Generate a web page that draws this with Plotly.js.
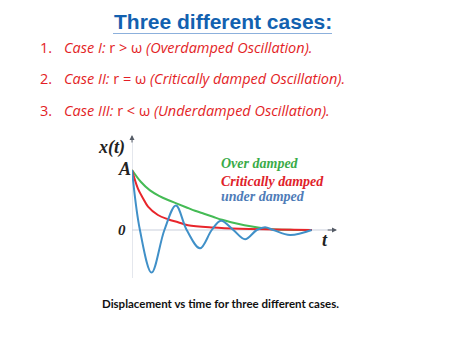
<!DOCTYPE html>
<html>
<head>
<meta charset="utf-8">
<script src="https://cdn.plot.ly/plotly-3.0.1.min.js"></script>
<style>html,body{margin:0;padding:0;background:#fff;}#chart{width:474px;height:355px;}</style>
</head>
<body>
<div id="chart"></div>
<script>
// ---- data (t in arbitrary time units, x in units of A) ----
var overT  = [0, 0.5, 1, 1.5, 2, 2.5, 3, 3.5, 4, 4.5, 5, 5.5, 6, 6.5, 7, 7.5, 8, 9, 10];
var overX  = [1, 0.8, 0.66, 0.57, 0.5, 0.44, 0.38, 0.32, 0.27, 0.22, 0.17, 0.13, 0.095, 0.065, 0.04, 0.02, 0.008, 0.002, 0];

var critT  = [0, 0.33, 0.61, 0.89, 1.44, 2.0, 2.56, 3.11, 4.5, 6, 8, 10];
var critX  = [1, 0.69, 0.53, 0.39, 0.25, 0.18, 0.13, 0.08, 0.04, 0.02, 0.01, 0];

var underT = [0, 0.44, 1.09, 1.8, 2.44, 3.04, 3.78, 4.43, 4.94, 5.63, 6.28, 6.93, 7.39, 7.85, 8.78, 9.98];
var underX = [1, 0, -0.71, 0, 0.41, 0, -0.305, 0, 0.155, 0, -0.155, 0, 0.045, 0, -0.083, 0];

var seriesNames = ["Over damped", "Critically damped", "under damped"];
var titleText = "Three different cases:";
var caseNums = ["1.", "2.", "3."];
var caseHeads = ["Case I:", "Case II:", "Case III:"];
var caseRel = ["r &gt; \u03c9", "r = \u03c9", "r &lt; \u03c9"];
var caseDesc = ["(Overdamped Oscillation).", "(Critically damped Oscillation).", "(Underdamped Oscillation)."];
var captionText = "Displacement vs time for three different cases.";
var yLabel = "x(t)", aLabel = "A", zeroLabel = "0", tLabel = "t";

// ---- layout helpers ----
var W = 474, H = 355;
function px(x){ return x / W; }
function py(y){ return 1 - y / H; }

var green = "#45bb55", red = "#e8252b", blue = "#4090c8";
var axisCol = "#c9cfdc";

var traces = [
  {x: overT, y: overX, mode: "lines", line: {color: green, width: 2, shape: "spline"}, name: seriesNames[0]},
  {x: critT, y: critX, mode: "lines", line: {color: red, width: 2, shape: "spline"}, name: seriesNames[1]},
  {x: underT, y: underX, mode: "lines", line: {color: blue, width: 2, shape: "spline"}, name: seriesNames[2]}
];

var xMax = 205 / 18, yMin = -0.8, yMax = 95 / 60;

var ann = [];
ann.push({xref: "paper", yref: "paper", x: px(222.5), y: py(21), text: "<b>" + titleText + "</b>", showarrow: false,
  font: {family: "Liberation Sans, Arial", size: 21, color: "#1261b0"}, xanchor: "center", yanchor: "middle"});
var lineY = [47, 78, 110];
for (var i = 0; i < 3; i++) {
  ann.push({xref: "paper", yref: "paper", x: px(38), y: py(lineY[i]), text: caseNums[i], showarrow: false,
    font: {family: "Open Sans", size: 14.5, color: "#e31e26"}, xanchor: "left", yanchor: "middle"});
  ann.push({xref: "paper", yref: "paper", x: px(62), y: py(lineY[i]),
    text: "<i>" + caseHeads[i] + "</i> " + caseRel[i] + " <i>" + caseDesc[i] + "</i>", showarrow: false,
    font: {family: "Open Sans", size: 14.5, color: "#e31e26"}, xanchor: "left", yanchor: "middle"});
}
ann.push({xref: "paper", yref: "paper", x: px(220), y: py(303), text: "<b>" + captionText + "</b>", showarrow: false,
  font: {family: "Lato", size: 11.5, color: "#111"}, xanchor: "center", yanchor: "middle"});

// axis labels
var serif = "Liberation Serif, Times New Roman, serif";
ann.push({xref: "paper", yref: "paper", x: px(111), y: py(147), text: "<b><i>" + yLabel + "</i></b>", showarrow: false,
  font: {family: serif, size: 18, color: "#222"}, xanchor: "center", yanchor: "middle"});
ann.push({xref: "paper", yref: "paper", x: px(124), y: py(169), text: "<b><i>" + aLabel + "</i></b>", showarrow: false,
  font: {family: serif, size: 18, color: "#222"}, xanchor: "center", yanchor: "middle"});
ann.push({xref: "paper", yref: "paper", x: px(122), y: py(230), text: "<b><i>" + zeroLabel + "</i></b>", showarrow: false,
  font: {family: serif, size: 15, color: "#222"}, xanchor: "center", yanchor: "middle"});
ann.push({xref: "paper", yref: "paper", x: px(325), y: py(240), text: "<b><i>" + tLabel + "</i></b>", showarrow: false,
  font: {family: serif, size: 18, color: "#222"}, xanchor: "center", yanchor: "middle"});

// legend-style labels
var legY = [163, 181, 196];
var legCol = ["#3aab48", "#e0222a", "#4f7cb8"];
for (var j = 0; j < 3; j++) {
  ann.push({xref: "paper", yref: "paper", x: px(219), y: py(legY[j]), text: "<b><i>" + seriesNames[j] + "</i></b>", showarrow: false,
    font: {family: serif, size: 14, color: legCol[j]}, xanchor: "left", yanchor: "middle"});
}

// arrow heads
ann.push({xref: "x", yref: "y", axref: "x", ayref: "y", x: xMax, y: 0, ax: xMax - 0.6, ay: 0, text: "", showarrow: true,
  arrowhead: 2, arrowsize: 1, arrowwidth: 1, arrowcolor: "#555b66"});
ann.push({xref: "x", yref: "y", axref: "x", ayref: "y", x: 0, y: yMax, ax: 0, ay: yMax - 0.15, text: "", showarrow: true,
  arrowhead: 2, arrowsize: 1, arrowwidth: 1, arrowcolor: "#555b66"});

var shapes = [
  {type: "line", xref: "paper", yref: "paper", x0: px(113), x1: px(332), y0: py(33.5), y1: py(33.5), line: {color: "#8cb0dc", width: 1}},
  {type: "line", xref: "x", yref: "y", x0: 0, x1: xMax - 0.3, y0: 0, y1: 0, line: {color: axisCol, width: 1}, layer: "below"},
  {type: "line", xref: "x", yref: "y", x0: 0, x1: 0, y0: yMin, y1: yMax - 0.05, line: {color: axisCol, width: 1}, layer: "below"}
];

var layout = {
  width: W, height: H, autosize: false,
  margin: {l: 0, r: 0, t: 0, b: 0},
  paper_bgcolor: "#fff", plot_bgcolor: "rgba(0,0,0,0)",
  showlegend: false,
  xaxis: {domain: [132 / W, 337 / W], range: [0, xMax], visible: false, fixedrange: true},
  yaxis: {domain: [1 - 278 / H, 1 - 135 / H], range: [yMin, yMax], visible: false, fixedrange: true},
  annotations: ann,
  shapes: shapes
};

Plotly.newPlot("chart", traces, layout, {staticPlot: true, displayModeBar: false});
</script>
</body>
</html>
